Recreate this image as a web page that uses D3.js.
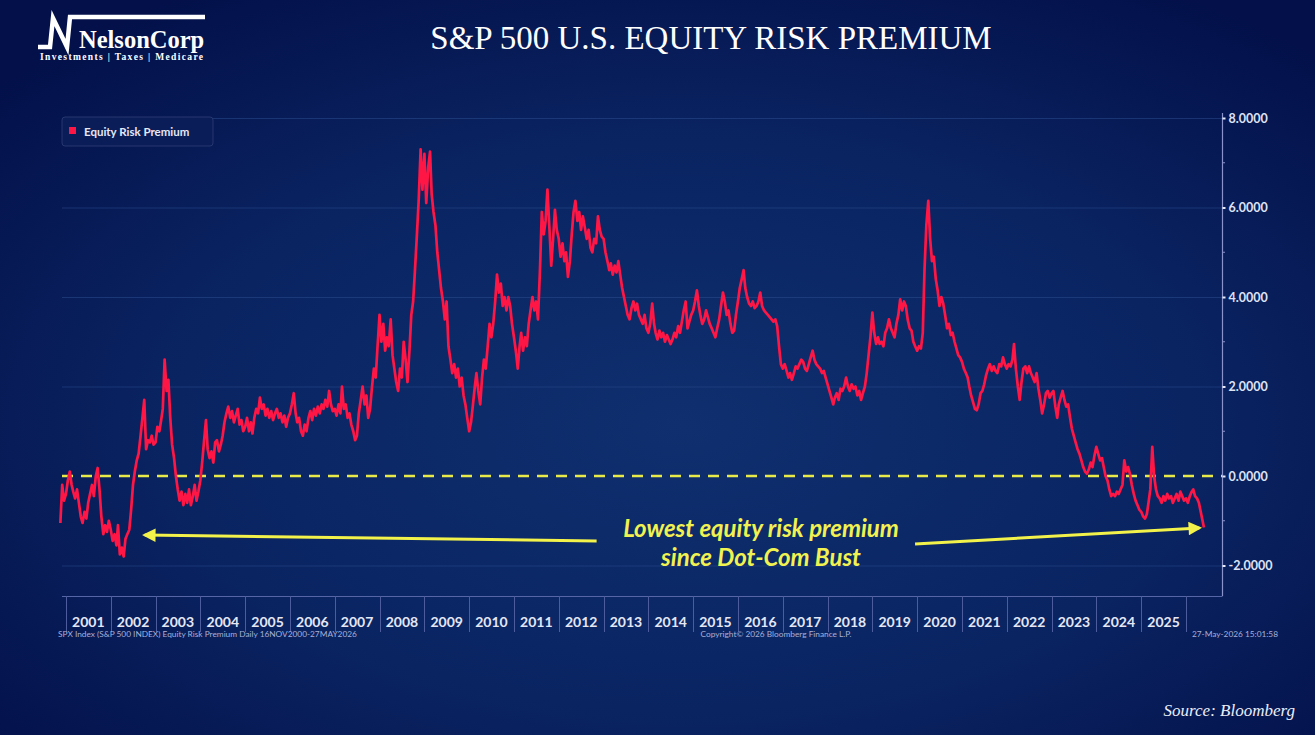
<!DOCTYPE html>
<html>
<head>
<meta charset="utf-8">
<script src="https://cdn.jsdelivr.net/npm/d3@7"></script>
<style>
  html, body { margin: 0; padding: 0; background: #041350; }
  #chart { width: 1315px; height: 735px; }
</style>
</head>
<body>
<div id="chart"></div>
<script>
// semi-monthly readings (1st and 16th of each month)
const erp2000 = [-1.05, -0.2, -0.55]; // Nov 16, Dec 1, Dec 16
const erp2001 = [-0.4, -0.1, 0.1, -0.2, -0.35, -0.5, -0.3, -0.6, -0.9, -1.05, -0.8, -0.95, -0.6, -0.4, -0.2, -0.45, 0.0, 0.18, -0.3, -0.9, -1.3, -1.1, -1.25, -1.0];
const erp2002 = [-1.2, -1.45, -1.3, -1.55, -1.1, -1.75, -1.6, -1.8, -1.4, -1.3, -1.2, -0.75, -0.2, 0.1, 0.35, 0.5, 0.9, 1.3, 1.7, 0.6, 0.8, 0.75, 0.9, 0.7];
const erp2003 = [0.75, 1.1, 1.0, 1.25, 1.5, 2.6, 1.9, 2.15, 1.3, 0.7, 0.4, 0.0, -0.3, -0.55, -0.35, -0.65, -0.4, -0.6, -0.3, -0.65, -0.45, -0.2, -0.55, -0.35];
const erp2004 = [-0.1, 0.3, 0.8, 1.25, 0.6, 0.4, 0.55, 0.3, 0.75, 0.8, 0.55, 0.7, 0.9, 1.2, 1.4, 1.55, 1.3, 1.45, 1.2, 1.35, 1.5, 1.15, 1.25, 1.0];
const erp2005 = [1.1, 1.3, 1.0, 1.2, 0.95, 1.3, 1.5, 1.4, 1.75, 1.5, 1.6, 1.35, 1.5, 1.3, 1.45, 1.25, 1.4, 1.5, 1.3, 1.4, 1.2, 1.35, 1.1, 1.3];
const erp2006 = [1.4, 1.6, 1.85, 1.4, 1.2, 1.3, 1.0, 0.9, 1.15, 1.0, 1.3, 1.45, 1.25, 1.5, 1.35, 1.55, 1.4, 1.6, 1.5, 1.7, 1.55, 1.9, 1.6, 1.45];
const erp2007 = [1.5, 1.35, 1.6, 1.4, 2.0, 1.5, 1.6, 1.3, 1.4, 1.15, 1.0, 0.8, 0.9, 1.4, 1.7, 2.0, 1.6, 1.8, 1.3, 1.5, 2.0, 2.4, 2.2, 2.9];
const erp2008 = [3.6, 3.0, 3.4, 2.8, 3.1, 2.9, 3.5, 2.7, 2.4, 2.1, 1.9, 2.4, 2.2, 3.0, 2.6, 2.1, 2.8, 3.6, 3.9, 4.6, 5.4, 6.2, 7.3, 6.4];
const erp2009 = [7.2, 6.1, 6.9, 7.25, 6.3, 5.9, 5.6, 5.0, 4.6, 4.2, 3.9, 3.5, 3.9, 2.9, 2.6, 2.3, 2.5, 2.2, 2.4, 2.0, 2.2, 1.8, 1.6, 1.3];
const erp2010 = [1.0, 1.2, 1.6, 2.0, 2.3, 1.9, 1.6, 2.2, 2.6, 2.4, 2.9, 3.4, 3.1, 3.4, 3.9, 4.5, 4.1, 4.3, 3.8, 4.0, 3.7, 4.0, 3.8, 3.4];
const erp2011 = [3.1, 2.8, 2.4, 2.9, 3.2, 2.8, 3.1, 2.9, 3.4, 3.7, 4.0, 3.7, 3.9, 3.5, 4.6, 5.9, 5.4, 5.7, 6.4, 5.6, 4.7, 5.3, 5.95, 5.5];
const erp2012 = [5.3, 4.9, 5.2, 4.8, 5.0, 4.45, 4.8, 5.4, 5.9, 6.15, 5.7, 5.9, 5.5, 5.8, 5.55, 5.3, 5.5, 5.1, 5.0, 5.3, 5.2, 5.8, 5.5, 5.35];
const erp2013 = [5.3, 5.0, 4.8, 4.6, 4.75, 4.5, 4.7, 4.55, 4.8, 4.5, 4.2, 4.0, 3.8, 3.6, 3.5, 3.75, 3.9, 3.7, 3.85, 3.6, 3.5, 3.4, 3.6, 3.3];
const erp2014 = [3.2, 3.4, 3.85, 3.4, 3.2, 3.05, 3.25, 3.1, 3.2, 3.0, 3.15, 3.05, 2.95, 3.05, 3.2, 3.1, 3.35, 3.2, 3.45, 3.7, 3.9, 3.3, 3.45, 3.6];
const erp2015 = [3.7, 3.9, 4.15, 3.8, 3.6, 3.4, 3.5, 3.7, 3.55, 3.4, 3.3, 3.2, 3.1, 3.3, 3.5, 3.8, 4.1, 3.9, 3.6, 3.7, 3.4, 3.2, 3.25, 3.6];
const erp2016 = [3.9, 4.2, 4.4, 4.6, 4.2, 4.0, 3.85, 3.8, 3.9, 3.75, 3.8, 3.9, 4.1, 3.8, 3.7, 3.65, 3.6, 3.55, 3.5, 3.45, 3.5, 3.35, 2.9, 2.5];
const erp2017 = [2.4, 2.5, 2.35, 2.2, 2.3, 2.15, 2.3, 2.45, 2.4, 2.5, 2.6, 2.55, 2.4, 2.35, 2.5, 2.65, 2.8, 2.6, 2.5, 2.45, 2.4, 2.3, 2.35, 2.2];
const erp2018 = [2.05, 1.9, 1.75, 1.6, 1.75, 1.85, 1.7, 1.95, 1.9, 2.0, 2.2, 2.0, 1.9, 2.05, 1.95, 2.0, 1.8, 1.9, 1.7, 1.85, 2.0, 2.3, 2.7, 3.1];
const erp2019 = [3.65, 3.2, 2.95, 3.1, 2.95, 3.0, 2.9, 3.2, 3.3, 3.5, 3.3, 3.2, 3.1, 3.4, 3.6, 3.95, 3.7, 3.9, 3.8, 3.5, 3.3, 3.25, 3.0, 2.9];
const erp2020 = [2.8, 2.9, 2.85, 3.2, 4.6, 5.6, 6.15, 5.3, 4.8, 4.9, 4.4, 4.15, 3.8, 4.0, 3.85, 3.6, 3.3, 3.4, 3.15, 3.2, 3.0, 2.85, 2.7, 2.65];
const erp2021 = [2.55, 2.4, 2.3, 2.2, 2.0, 1.8, 1.65, 1.5, 1.47, 1.6, 1.85, 1.9, 2.05, 2.25, 2.4, 2.5, 2.35, 2.45, 2.35, 2.3, 2.5, 2.45, 2.65, 2.5];
const erp2022 = [2.4, 2.5, 2.45, 2.6, 2.95, 2.4, 2.0, 1.7, 2.1, 2.4, 2.45, 2.3, 2.45, 2.3, 2.2, 2.1, 2.3, 1.95, 1.7, 1.4, 1.6, 1.85, 1.9, 1.75];
const erp2023 = [1.85, 1.9, 1.55, 1.3, 1.6, 1.75, 1.9, 1.7, 1.55, 1.6, 1.3, 1.05, 0.9, 0.75, 0.6, 0.5, 0.35, 0.2, 0.1, 0.05, 0.15, 0.3, 0.2, 0.45];
const erp2024 = [0.65, 0.5, 0.35, 0.4, 0.2, 0.0, -0.1, -0.3, -0.45, -0.4, -0.45, -0.35, -0.4, -0.3, -0.2, 0.35, 0.1, 0.2, 0.05, -0.2, -0.4, -0.55, -0.65, -0.75];
const erp2025 = [-0.8, -0.9, -0.95, -0.85, -0.6, -0.3, 0.65, 0.0, -0.3, -0.45, -0.5, -0.6, -0.45, -0.55, -0.4, -0.5, -0.45, -0.6, -0.5, -0.4, -0.55, -0.35, -0.45, -0.55];
const erp2026 = [-0.5, -0.6, -0.45, -0.35, -0.3, -0.45, -0.5, -0.6, -0.8, -1.0]; // Jan 1 .. May 16
const erpLast = ["2026-05-27", -1.15];

const fullYears = [erp2001, erp2002, erp2003, erp2004, erp2005, erp2006, erp2007, erp2008, erp2009, erp2010,
    erp2011, erp2012, erp2013, erp2014, erp2015, erp2016, erp2017, erp2018, erp2019, erp2020,
    erp2021, erp2022, erp2023, erp2024, erp2025, erp2026];

const yearLabels = ["2001", "2002", "2003", "2004", "2005", "2006", "2007", "2008", "2009", "2010",
    "2011", "2012", "2013", "2014", "2015", "2016", "2017", "2018", "2019", "2020",
    "2021", "2022", "2023", "2024", "2025"];
const yTicks = [-2, 0, 2, 4, 6, 8];
const yMinorTicks = [-1, 1, 3, 5, 7];

// arrows of the note: [date, value] for tail and tip
const arrowLeft = [["2012-11-05", -1.45], ["2002-10-05", -1.32]];
const arrowRight = [["2019-12-15", -1.52], ["2026-04-20", -1.16]];

function semiMonthDate(year, k) {
    return new Date(Date.UTC(year, Math.floor(k / 2), k % 2 === 0 ? 1 : 16));
}

function buildSeries() {
    var pts = [];
    erp2000.forEach(function (v, i) {
        var k = 21 + i; // Nov 16 is k = 21
        pts.push({ date: semiMonthDate(2000, k), value: v });
    });
    fullYears.forEach(function (arr, yi) {
        arr.forEach(function (v, k) {
            pts.push({ date: semiMonthDate(2001 + yi, k), value: v });
        });
    });
    pts.push({ date: new Date(erpLast[0]), value: erpLast[1] });
    return pts;
}

const data = buildSeries();

const width = 1315;
const height = 735;
const plotLeft = 62;
const plotRight = 1222;
const plotTop = 113;
const plotBottom = 596;

const svg = d3.select("#chart").append("svg")
    .attr("width", width)
    .attr("height", height)
    .attr("viewBox", [0, 0, width, height]);

const defs = svg.append("defs");
const bg = defs.append("radialGradient")
    .attr("id", "bg")
    .attr("cx", "52%").attr("cy", "58%").attr("r", "70%");
bg.append("stop").attr("offset", "0%").attr("stop-color", "#0f2f6e");
bg.append("stop").attr("offset", "55%").attr("stop-color", "#0a2462");
bg.append("stop").attr("offset", "100%").attr("stop-color", "#03104a");

const arrowHead = defs.append("marker")
    .attr("id", "head")
    .attr("viewBox", "0 0 10 10")
    .attr("refX", 8).attr("refY", 5)
    .attr("markerWidth", 5).attr("markerHeight", 4.5)
    .attr("orient", "auto");
arrowHead.append("path").attr("d", "M0,0 L10,5 L0,10 Z").attr("fill", "#f2f24a");

svg.append("rect")
    .attr("width", width).attr("height", height)
    .attr("fill", "url(#bg)");

const x = d3.scaleUtc()
    .domain([new Date(Date.UTC(2001, 0, 1)), new Date(Date.UTC(2026, 0, 1))])
    .range([66, 1186]);

const y = d3.scaleLinear()
    .domain([-2, 8])
    .range([565.5, 118]);

// grid
svg.append("g")
    .attr("stroke", "#2a4a8c")
    .attr("stroke-opacity", 0.55)
    .selectAll("line")
    .data(yTicks.filter(d => d !== 0))
    .join("line")
    .attr("x1", plotLeft).attr("x2", plotRight)
    .attr("y1", d => y(d) + 0.5).attr("y2", d => y(d) + 0.5);

// frame: right and bottom
svg.append("line")
    .attr("x1", plotRight + 0.5).attr("x2", plotRight + 0.5)
    .attr("y1", plotTop).attr("y2", plotBottom)
    .attr("stroke", "#8a93cc").attr("stroke-width", 1.2);
svg.append("line")
    .attr("x1", plotLeft).attr("x2", plotRight + 0.5)
    .attr("y1", plotBottom + 0.5).attr("y2", plotBottom + 0.5)
    .attr("stroke", "#5565a6").attr("stroke-width", 1);

// right axis
const yAxis = svg.append("g")
    .attr("transform", `translate(${plotRight + 0.5},0)`)
    .call(d3.axisRight(y).tickValues(yTicks).tickSize(3).tickPadding(3).tickFormat(d => d.toFixed(4)))
    .call(g => g.select(".domain").remove());
yAxis.selectAll(".tick line").attr("stroke", "#e6e8f6").attr("stroke-width", 2);
yAxis.selectAll(".tick text")
    .attr("fill", "#dfe2f4")
    .attr("font-family", "Lato, 'Open Sans', sans-serif")
    .attr("font-weight", "bold")
    .attr("font-size", 12.5);

svg.append("g")
    .attr("stroke", "#8a93cc")
    .selectAll("line")
    .data(yMinorTicks)
    .join("line")
    .attr("x1", plotRight).attr("x2", plotRight + 3)
    .attr("y1", d => y(d)).attr("y2", d => y(d));

// bottom year boundaries and labels
const boundaries = yearLabels.map(d => new Date(Date.UTC(+d, 0, 1)))
    .concat([new Date(Date.UTC(2026, 0, 1))]);
svg.append("g")
    .attr("stroke", "#4d5c9c")
    .selectAll("line")
    .data(boundaries)
    .join("line")
    .attr("x1", d => Math.round(x(d)) + 0.5).attr("x2", d => Math.round(x(d)) + 0.5)
    .attr("y1", plotBottom).attr("y2", 632);

svg.append("g")
    .selectAll("text")
    .data(yearLabels)
    .join("text")
    .attr("x", d => x(new Date(Date.UTC(+d, 6, 2))))
    .attr("y", 627)
    .attr("text-anchor", "middle")
    .attr("fill", "#e4e7f6")
    .attr("font-family", "Lato, 'Open Sans', sans-serif")
    .attr("font-weight", "bold")
    .attr("font-size", 14)
    .text(d => d);

// zero line
svg.append("line")
    .attr("x1", plotLeft).attr("x2", plotRight)
    .attr("y1", y(0)).attr("y2", y(0))
    .attr("stroke", "#e8ea4a")
    .attr("stroke-width", 2.6)
    .attr("stroke-dasharray", "11,8");

// series
const line = d3.line()
    .x(d => x(d.date))
    .y(d => y(d.value));

svg.append("path")
    .datum(data)
    .attr("fill", "none")
    .attr("stroke", "#ff1645")
    .attr("stroke-width", 2.7)
    .attr("stroke-linejoin", "round")
    .attr("d", line);

// legend
const legend = svg.append("g").attr("transform", "translate(62,117)");
legend.append("rect")
    .attr("width", 151).attr("height", 29).attr("rx", 3)
    .attr("fill", "#0a1d58").attr("stroke", "#26376f");
legend.append("rect")
    .attr("x", 7).attr("y", 10).attr("width", 7).attr("height", 7)
    .attr("fill", "#ff1645");
legend.append("text")
    .attr("x", 22).attr("y", 18.5)
    .attr("fill", "#e6e8f6")
    .attr("font-family", "Lato, 'Open Sans', sans-serif")
    .attr("font-weight", "bold")
    .attr("font-size", 11.5)
    .text("Equity Risk Premium");

// arrows
[arrowLeft, arrowRight].forEach(function (a) {
    svg.append("line")
        .attr("x1", x(new Date(a[0][0]))).attr("y1", y(a[0][1]))
        .attr("x2", x(new Date(a[1][0]))).attr("y2", y(a[1][1]))
        .attr("stroke", "#f2f24a")
        .attr("stroke-width", 3)
        .attr("marker-end", "url(#head)");
});

// note
const note = svg.append("g")
    .attr("fill", "#f1f250")
    .attr("font-family", "Lato, 'Open Sans', sans-serif")
    .attr("font-weight", "bold")
    .attr("font-style", "italic")
    .attr("font-size", 24)
    .attr("text-anchor", "middle");
note.append("text").attr("x", 761).attr("y", 537).text("Lowest equity risk premium");
note.append("text").attr("x", 761).attr("y", 566).text("since Dot-Com Bust");

// title
svg.append("text")
    .attr("x", 711).attr("y", 49)
    .attr("text-anchor", "middle")
    .attr("fill", "#ffffff")
    .attr("font-family", "'Liberation Serif', 'DejaVu Serif', serif")
    .attr("font-size", 33)
    .text("S&P 500 U.S. EQUITY RISK PREMIUM");

// logo
const logo = svg.append("g");
logo.append("path")
    .attr("d", "M38,47 L50,47 L53,18 L67,47 L70,17 L205,17")
    .attr("fill", "none")
    .attr("stroke", "#ffffff")
    .attr("stroke-width", 4.5)
    .attr("stroke-linejoin", "miter");
logo.append("text")
    .attr("x", 79).attr("y", 48)
    .attr("fill", "#ffffff")
    .attr("font-family", "'Liberation Serif', 'DejaVu Serif', serif")
    .attr("font-weight", "bold")
    .attr("font-size", 24.5)
    .text("NelsonCorp");
logo.append("text")
    .attr("x", 40).attr("y", 60)
    .attr("fill", "#ffffff")
    .attr("font-family", "'Liberation Serif', 'DejaVu Serif', serif")
    .attr("font-weight", "bold")
    .attr("font-size", 9.5)
    .attr("textLength", 163)
    .text("Investments | Taxes | Medicare");

// footer
const foot = svg.append("g")
    .attr("fill", "#a9b0d8")
    .attr("font-family", "Lato, 'Open Sans', sans-serif")
    .attr("font-size", 8.3);
foot.append("text").attr("x", 58).attr("y", 637)
    .text("SPX Index (S&P 500 INDEX) Equity Risk Premium Daily 16NOV2000-27MAY2026");
foot.append("text").attr("x", 776).attr("y", 637).attr("text-anchor", "middle")
    .text("Copyright© 2026 Bloomberg Finance L.P.");
foot.append("text").attr("x", 1278).attr("y", 637).attr("text-anchor", "end")
    .text("27-May-2026 15:01:58");

svg.append("text")
    .attr("x", 1295).attr("y", 716)
    .attr("text-anchor", "end")
    .attr("fill", "#eceef8")
    .attr("font-family", "'Liberation Serif', 'DejaVu Serif', serif")
    .attr("font-style", "italic")
    .attr("font-size", 17)
    .text("Source: Bloomberg");
</script>
</body>
</html>
